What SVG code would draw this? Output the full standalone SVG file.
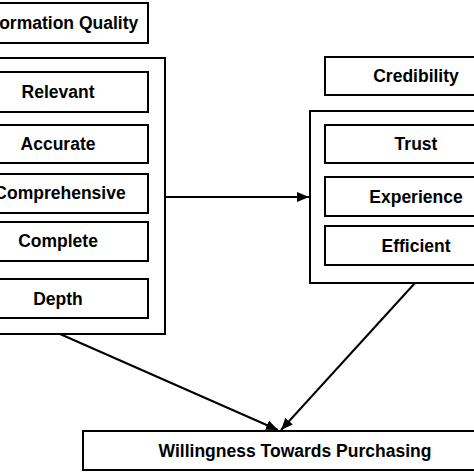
<svg xmlns="http://www.w3.org/2000/svg" width="474" height="474" viewBox="0 0 474 474">
<style>
rect{fill:#fff;stroke:#000;stroke-width:2}
text{font-family:"Liberation Sans",Arial,sans-serif;font-weight:bold;font-size:17.5px;text-anchor:middle;fill:#000}
.c line{stroke:#000;stroke-width:2}
</style>
<defs>
<marker id="ah" viewBox="0 0 12 10" refX="12" refY="5" markerWidth="12" markerHeight="10" markerUnits="userSpaceOnUse" orient="auto">
<path d="M0,0 L12,5 L0,10 Z" fill="#000"/>
</marker>
</defs>
<g id="title-iq"><rect x="-32" y="3" width="180" height="40"/><text x="58" y="29">Information Quality</text></g>
<g id="iq-group"><rect x="-50" y="58" width="215" height="276"/></g>
<g id="relevant"><rect x="-32" y="72" width="180" height="40"/><text x="58" y="98">Relevant</text></g>
<g id="accurate"><rect x="-32" y="125" width="180" height="38"/><text x="58" y="150">Accurate</text></g>
<g id="comprehensive"><rect x="-32" y="174" width="180" height="39"/><text x="60" y="199">Comprehensive</text></g>
<g id="complete"><rect x="-32" y="222" width="180" height="39"/><text x="58" y="247">Complete</text></g>
<g id="depth"><rect x="-32" y="279" width="180" height="39"/><text x="58" y="305">Depth</text></g>
<g id="title-cred"><rect x="325" y="57" width="182" height="38"/><text x="416" y="82">Credibility</text></g>
<g id="cred-group"><rect x="310" y="111" width="220" height="172"/></g>
<g id="trust"><rect x="325" y="125" width="182" height="38"/><text x="416" y="150">Trust</text></g>
<g id="experience"><rect x="325" y="177" width="182" height="39"/><text x="416" y="203">Experience</text></g>
<g id="efficient"><rect x="325" y="226" width="182" height="39"/><text x="416" y="252">Efficient</text></g>
<g id="willingness"><rect x="83" y="431" width="424" height="39"/><text x="295" y="457">Willingness Towards Purchasing</text></g>
<g class="c" id="connectors">
<line x1="165" y1="197" x2="309" y2="197" marker-end="url(#ah)"/>
<line x1="60" y1="334" x2="278" y2="430" marker-end="url(#ah)"/>
<line x1="415" y1="283" x2="281" y2="430" marker-end="url(#ah)"/>
</g>
</svg>
